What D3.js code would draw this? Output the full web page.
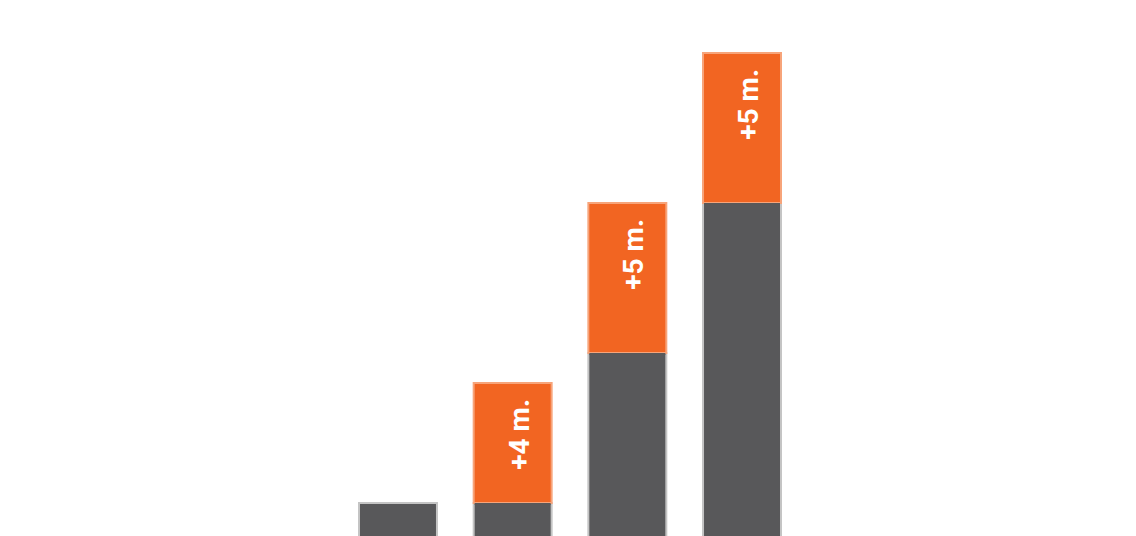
<!DOCTYPE html>
<html>
<head>
<meta charset="utf-8">
<script src="https://cdn.jsdelivr.net/npm/d3@7"></script>
<style>
  html, body { margin: 0; padding: 0; background: #ffffff; overflow: hidden; }
  svg { display: block; }
</style>
</head>
<body>
<svg id="chart" width="1136" height="536"></svg>
<script>
// ---- data ----
const categories = ["1", "2", "3", "4"];
const baseValues = [1.3, 1.3, 6.3, 11.3];
const increaseValues = [0, 4, 5, 5];
const increaseLabels = ["", "+4 m.", "+5 m.", "+5 m."];

// ---- chart ----
const W = 1136, H = 536;
const svg = d3.select("#chart");

const x = d3.scaleBand()
  .domain(categories)
  .range([359, 781])
  .paddingInner(0.32)
  .paddingOuter(0);

const y = d3.scaleLinear()
  .domain([0, 18])
  .range([542, 2]);

const gray = "#58585a", grayEdge = "#c4c4c4";
const orange = "#f26522", orangeEdge = "#f7a47a";

const rows = categories.map((c, i) => ({
  c, base: baseValues[i], inc: increaseValues[i], label: increaseLabels[i]
}));

const g = svg.append("g");

// gray (base) segments
g.selectAll("rect.base")
  .data(rows)
  .join("rect")
  .attr("class", "base")
  .attr("x", d => x(d.c))
  .attr("width", x.bandwidth())
  .attr("y", d => y(d.base))
  .attr("height", d => y(0) - y(d.base))
  .attr("fill", gray)
  .attr("stroke", grayEdge)
  .attr("stroke-width", 2);

// orange (increase) segments
const inc = rows.filter(d => d.inc > 0);
g.selectAll("rect.inc")
  .data(inc)
  .join("rect")
  .attr("class", "inc")
  .attr("x", d => x(d.c))
  .attr("width", x.bandwidth())
  .attr("y", d => y(d.base + d.inc))
  .attr("height", d => y(d.base) - y(d.base + d.inc))
  .attr("fill", orange)
  .attr("stroke", orangeEdge)
  .attr("stroke-width", 2);

// clean seam between segments
g.selectAll("line.join")
  .data(inc)
  .join("line")
  .attr("x1", d => x(d.c) + 1)
  .attr("x2", d => x(d.c) + x.bandwidth() - 1)
  .attr("y1", d => y(d.base) + 1)
  .attr("y2", d => y(d.base) + 1)
  .attr("stroke", gray)
  .attr("stroke-width", 2);

// rotated labels
g.selectAll("text.lbl")
  .data(inc)
  .join("text")
  .attr("class", "lbl")
  .attr("transform", d => `translate(${x(d.c) + x.bandwidth() / 2 + 16}, ${y(d.base + d.inc) + 16}) rotate(-90)`)
  .attr("text-anchor", "end")
  .attr("fill", "#ffffff")
  .style("font-family", "Roboto, 'Liberation Sans', sans-serif")
  .style("font-weight", "700")
  .style("font-size", "28px")
  .text(d => d.label);
</script>
</body>
</html>
